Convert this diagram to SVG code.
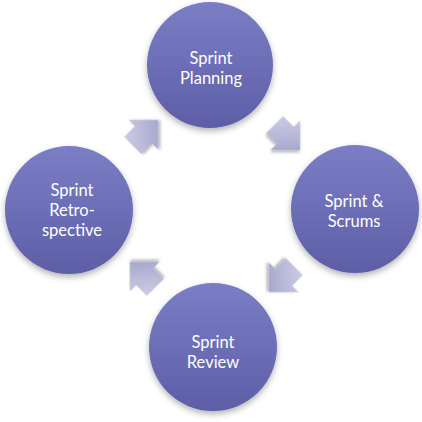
<svg xmlns="http://www.w3.org/2000/svg" width="422" height="422" viewBox="0 0 422 422">
<defs>
<linearGradient id="cg" x1="0" y1="0" x2="0" y2="1">
<stop offset="0" stop-color="#7b7dc5"/>
<stop offset="0.5" stop-color="#6c6eb6"/>
<stop offset="1" stop-color="#5c5ea6"/>
</linearGradient>
<linearGradient id="ag" x1="0" y1="0" x2="1" y2="1">
<stop offset="0" stop-color="#d2d2ea"/>
<stop offset="1" stop-color="#9a9ac4"/>
</linearGradient>
<filter id="sh" x="-20%" y="-20%" width="140%" height="145%">
<feDropShadow dx="0" dy="3" stdDeviation="3" flood-color="#000" flood-opacity="0.3"/>
</filter>
<filter id="ash" x="-30%" y="-30%" width="160%" height="160%">
<feDropShadow dx="1" dy="2" stdDeviation="1.5" flood-color="#000" flood-opacity="0.3"/>
</filter>
<path id="arr" d="M-16,-12 L-1,-12 L-1,-21 L20,0 L-1,21 L-1,12 L-16,12 Z"/>
</defs>
<style>
.c{fill:url(#cg);filter:url(#sh)}
.t{fill:#fff;font-family:Lato,"Open Sans",sans-serif;font-size:16.5px;text-anchor:middle}
.a{fill:url(#ag);filter:url(#ash)}
</style>
<rect width="422" height="422" fill="#fff"/>
<g id="connectors">
<use href="#arr" class="a" transform="translate(144,134) rotate(-45)"/>
<use href="#arr" class="a" transform="translate(286,136) rotate(45)"/>
<use href="#arr" class="a" transform="translate(283,278) rotate(135)"/>
<use href="#arr" class="a" transform="translate(144,276) rotate(-135)"/>
</g>
<g id="planning">
<circle class="c" cx="210" cy="65" r="63"/>
<text class="t" x="211" y="64">Sprint</text>
<text class="t" x="211" y="84">Planning</text>
</g>
<g id="scrums">
<circle class="c" cx="355" cy="209" r="64"/>
<text class="t" x="354" y="207">Sprint &amp;</text>
<text class="t" x="354" y="227">Scrums</text>
</g>
<g id="review">
<circle class="c" cx="213" cy="347" r="64"/>
<text class="t" x="213" y="348">Sprint</text>
<text class="t" x="213" y="368">Review</text>
</g>
<g id="retrospective">
<circle class="c" cx="69" cy="210" r="64"/>
<text class="t" x="72" y="196">Sprint</text>
<text class="t" x="72" y="216">Retro-</text>
<text class="t" x="72" y="236">spective</text>
</g>
</svg>
